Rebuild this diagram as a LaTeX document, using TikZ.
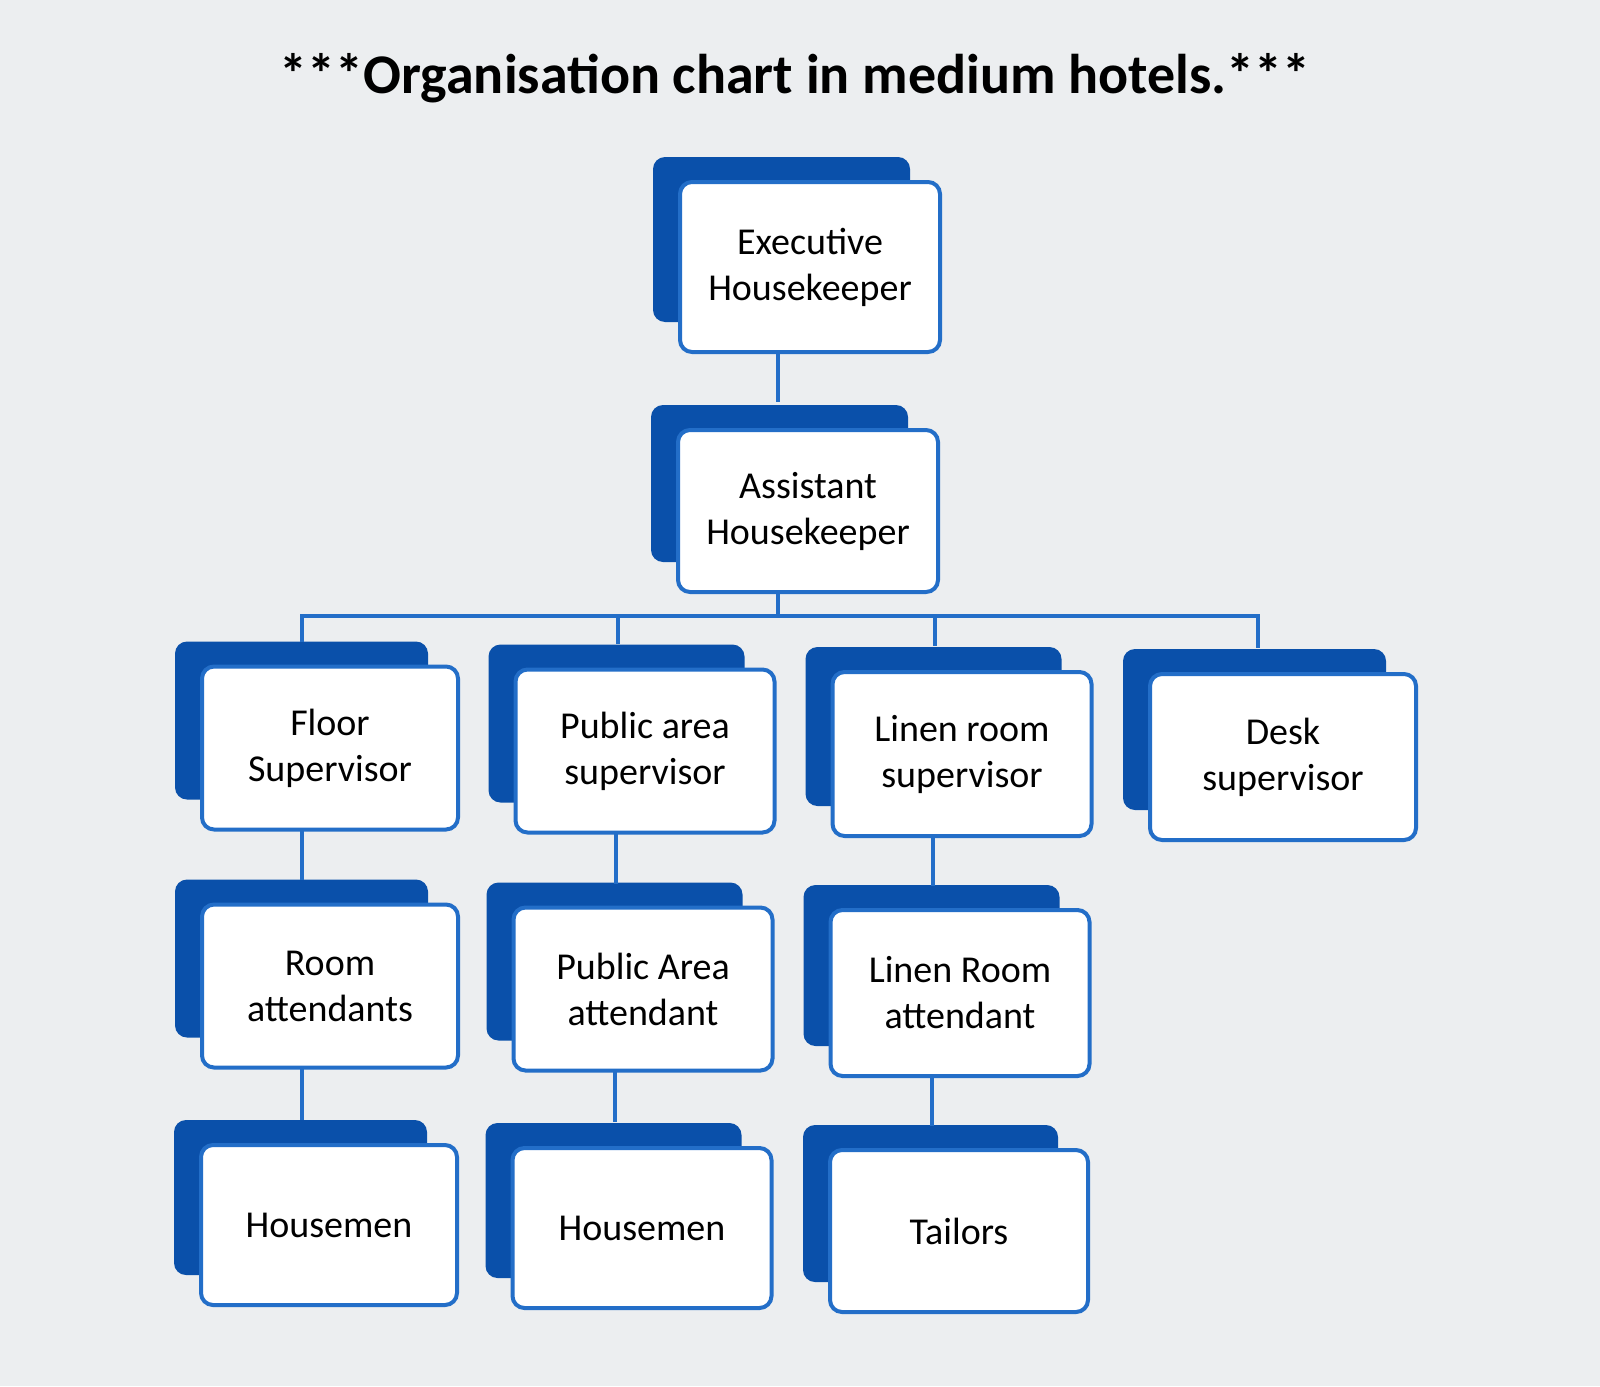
\documentclass[tikz,border=0pt]{standalone}
\usepackage{fontspec}
\setmainfont{Carlito}
\definecolor{dback}{RGB}{10,80,170}
\definecolor{bline}{RGB}{35,110,200}
\definecolor{bg}{RGB}{236,238,240}
\tikzset{
 front/.style={draw=bline,line width=2pt,fill=white,rounded corners=6pt,align=center,font=\fontsize{19}{23}\selectfont,inner sep=0pt},
 conn/.style={draw=bline,line width=2.2pt},
}
% name, cx, cy, w, h (px), text
\newcommand\orgbox[6]{%
 \fill[dback,rounded corners=6pt] (#2-#4/2-27,#3-#5/2-25) rectangle (#2+#4/2-30,#3+#5/2-30);
 \node[front,minimum width=#4*0.5pt,minimum height=#5*0.5pt] (#1) at (#2,#3) {#6};}
\begin{document}
\begin{tikzpicture}[x=0.5pt,y=-0.5pt]
\fill[bg] (0,0) rectangle (1600,1386);
\useasboundingbox (0,0) rectangle (1600,1386);
\node[font=\bfseries\fontsize{28}{32}\selectfont] (title) at (795,78) {***Organisation chart in medium hotels.***};
\orgbox{ex}{810}{267}{260}{170}{Executive\\Housekeeper}
\orgbox{as}{808}{511}{260}{162}{Assistant\\Housekeeper}
\orgbox{fs}{330}{748}{256}{163}{Floor\\Supervisor}
\orgbox{ps}{645}{751}{259}{163}{Public area\\supervisor}
\orgbox{ls}{962}{754}{259}{164}{Linen room\\supervisor}
\orgbox{ds}{1283}{757}{266}{166}{Desk\\supervisor}
\orgbox{ra}{330}{986}{256}{163}{Room\\attendants}
\orgbox{pa}{643}{989}{259}{163}{Public Area\\attendant}
\orgbox{la}{960}{993}{259}{166}{Linen Room\\attendant}
\orgbox{h1}{329}{1225}{256}{160}{Housemen}
\orgbox{h2}{642}{1228}{259}{160}{Housemen}
\orgbox{tl}{959}{1231}{258}{162}{Tailors}
\coordinate (bus) at (778,616);
\draw[conn] (778,352) -- (778,402);
\draw[conn] (778,592) -- (bus);
\draw[conn] (302,642) -- (302,616) -- (1258,616) -- (1258,648);
\draw[conn] (618,616) -- (618,644);
\draw[conn] (935,616) -- (935,646);
\draw[conn] (302,830) -- (302,880);
\draw[conn] (616,833) -- (616,884);
\draw[conn] (933,836) -- (933,886);
\draw[conn] (302,1068) -- (302,1120);
\draw[conn] (615,1071) -- (615,1122);
\draw[conn] (932,1076) -- (932,1126);
\end{tikzpicture}
\end{document}
